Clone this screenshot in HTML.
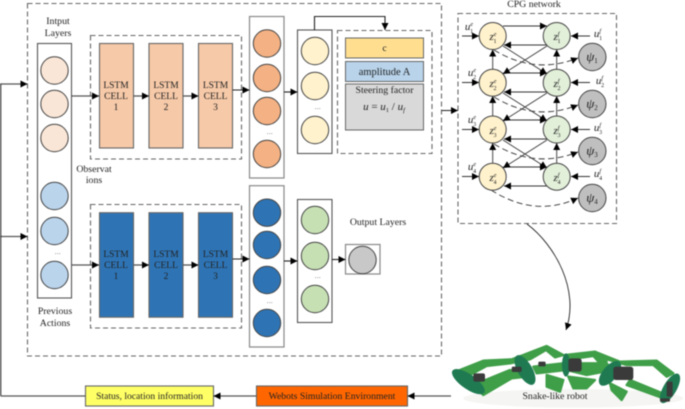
<!DOCTYPE html>
<html><head><meta charset="utf-8"><style>
html,body{margin:0;padding:0;background:#fff}
svg{display:block;filter:blur(.45px)}
text{font-family:"Liberation Serif",serif;fill:#222;text-anchor:middle}
.d{fill:none;stroke:#666;stroke-width:1.1;stroke-dasharray:5 3}
.b{fill:#fff;stroke:#555;stroke-width:1.1}
.g{fill:#fff;stroke:#888;stroke-width:1.2}
.c{stroke:#444;stroke-width:1}
.l{stroke:#222;stroke-width:1.1;fill:none}
.lg{stroke:#555;stroke-width:1.3;fill:none}
.o{stroke:#333;stroke-width:.9;fill:none}
.i{font-style:italic}
.t{font-size:9.8px}
.dots{font-size:6px;letter-spacing:.6px}
</style></head><body>
<svg width="685" height="409" viewBox="0 0 685 409" xmlns="http://www.w3.org/2000/svg">
<defs>
<marker id="a" markerUnits="userSpaceOnUse" markerWidth="8" markerHeight="8" refX="7" refY="3.5" orient="auto"><path d="M0 0L7 3.5L0 7Z" fill="#000"/></marker>
</defs>

<!-- main frames -->
<rect class="d" x="27.5" y="3.5" width="414" height="352.5"/>
<rect class="d" x="90.5" y="35.5" width="151" height="123.5"/>
<rect class="d" x="90.5" y="204.5" width="151" height="123.5"/>
<rect class="d" x="337.5" y="30.5" width="94.5" height="123"/>
<rect class="d" x="458" y="13.5" width="158.5" height="210"/>

<!-- input column -->
<rect class="b" x="37.5" y="43.5" width="34" height="254.5"/>
<g class="c" fill="#fae6d6">
<circle cx="54.5" cy="70.5" r="13.7"/><circle cx="54.5" cy="104" r="13.7"/><circle cx="54.5" cy="138" r="13.7"/>
</g>
<g class="c" fill="#bad4ec">
<circle cx="54.5" cy="196" r="13.7"/><circle cx="54.5" cy="231" r="13.7"/><circle cx="54.5" cy="275" r="13.7"/>
</g>
<text class="t" x="58" y="24">Intput</text>
<text class="t" x="58" y="36">Layers</text>
<text class="t" x="94" y="172">Observat</text>
<text class="t" x="94" y="183">ions</text>
<text class="dots" x="58" y="254">...</text>
<text class="t" x="55" y="314">Previous</text>
<text class="t" x="55" y="326">Actions</text>

<!-- LSTM upper -->
<g fill="#f6c9a8" stroke="#666" stroke-width="1.1">
<rect x="99.5" y="43.5" width="34" height="104.5"/><rect x="149" y="43.5" width="34" height="104.5"/><rect x="198.5" y="43.5" width="34" height="104.5"/>
</g>
<g fill="#2e74b5" stroke="#666" stroke-width="1.1">
<rect x="99.5" y="212.7" width="34" height="104.5"/><rect x="149" y="212.7" width="34" height="104.5"/><rect x="198.5" y="212.7" width="34" height="104.5"/>
</g>
<g font-size="9.5">
<text x="116" y="88">LSTM</text><text x="116" y="99">CELL</text><text x="116" y="110">1</text>
<text x="166" y="88">LSTM</text><text x="166" y="99">CELL</text><text x="166" y="110">2</text>
<text x="215.5" y="88">LSTM</text><text x="215.5" y="99">CELL</text><text x="215.5" y="110">3</text>
<text x="116" y="257">LSTM</text><text x="116" y="268">CELL</text><text x="116" y="279">1</text>
<text x="166" y="257">LSTM</text><text x="166" y="268">CELL</text><text x="166" y="279">2</text>
<text x="215.5" y="257">LSTM</text><text x="215.5" y="268">CELL</text><text x="215.5" y="279">3</text>
</g>

<!-- orange column -->
<rect class="g" x="249.5" y="16.5" width="34.5" height="161.5"/>
<g class="c" fill="#f4b183">
<circle cx="267" cy="43.5" r="13.7"/><circle cx="267" cy="78" r="13.7"/><circle cx="267" cy="111" r="13.7"/><circle cx="267" cy="154" r="13.7"/>
</g>
<text class="dots" x="270" y="134">...</text>

<!-- cream column -->
<rect class="b" x="297.5" y="30" width="34.5" height="123.5"/>
<g class="c" fill="#fff2cc">
<circle cx="315" cy="51" r="13.7"/><circle cx="315" cy="86" r="13.7"/><circle cx="315" cy="130" r="13.7"/>
</g>
<text class="dots" x="318" y="109">...</text>

<!-- parameter panel -->
<rect x="345.5" y="38" width="78" height="20" fill="#ffdf8f" stroke="#666"/>
<rect x="345.5" y="61.5" width="78" height="20" fill="#b8d3ea" stroke="#666"/>
<rect x="345.5" y="84" width="78" height="46" fill="#d9d9d9" stroke="#666"/>
<text class="t" x="384.5" y="51">c</text>
<text x="384.500" y="75" font-size="10.500">amplitude A</text>
<text class="t" x="384.500" y="93">Steering factor</text>
<text x="384" y="110" font-size="11"><tspan class="i">u</tspan> = <tspan class="i">u</tspan><tspan font-size="6.500" dy="2">1</tspan><tspan dy="-2"> / </tspan><tspan class="i">u</tspan><tspan class="i" font-size="6.500" dy="2">f</tspan></text>

<!-- blue column -->
<rect class="g" x="249.5" y="185.7" width="34.5" height="161.3"/>
<g class="c" fill="#2e74b5">
<circle cx="267" cy="212.7" r="13.7"/><circle cx="267" cy="245" r="13.7"/><circle cx="267" cy="280" r="13.7"/><circle cx="267" cy="323" r="13.7"/>
</g>
<text class="dots" x="270" y="303">...</text>

<!-- green column -->
<rect class="b" x="297.5" y="199.5" width="34.5" height="123"/>
<g class="c" fill="#c6e0b4">
<circle cx="315" cy="220" r="13.7"/><circle cx="315" cy="256" r="13.7"/><circle cx="315" cy="299" r="13.7"/>
</g>
<text class="dots" x="318" y="278">...</text>

<!-- output -->
<text class="t" x="378" y="225">Output Layers</text>
<rect class="g" x="345.5" y="244.5" width="34.5" height="29.5"/>
<circle class="c" cx="362.5" cy="260" r="13.7" fill="#c8c8c8"/>

<!-- NN connectors -->
<g class="lg">
<path d="M0 84H27.5" marker-end="url(#a)"/>
<path d="M0 236.5H27.5" marker-end="url(#a)"/>
<path d="M71.5 96H99" marker-end="url(#a)"/>
<path d="M71.5 265H99" marker-end="url(#a)"/>
<path d="M133.5 96H149" marker-end="url(#a)"/>
<path d="M183 96H198.5" marker-end="url(#a)"/>
<path d="M133.5 265H149" marker-end="url(#a)"/>
<path d="M183 265H198.5" marker-end="url(#a)"/>
</g>
<g class="l">
<path d="M232.5 90H249.5" marker-end="url(#a)"/>
<path d="M232.5 259H249.5" marker-end="url(#a)"/>
<path d="M284 92H297.5" marker-end="url(#a)"/>
<path d="M284 261H297.5" marker-end="url(#a)"/>
<path d="M332 259.500H345.500" marker-end="url(#a)"/>
<path d="M314.500 30V16.500H385V30" marker-end="url(#a)"/>
<path d="M441.500 110.500H458" marker-end="url(#a)"/>
<path d="M.7 84V396"/>
</g>

<!-- CPG -->
<text class="t" x="534" y="7">CPG network</text>
<g class="o">
<path d="M503 26H547" marker-end="url(#a)"/><path d="M547 45H504" marker-end="url(#a)"/>
<path d="M503 73H547" marker-end="url(#a)"/><path d="M547 92H504" marker-end="url(#a)"/>
<path d="M503 120H547" marker-end="url(#a)"/><path d="M547 139H504" marker-end="url(#a)"/>
<path d="M503 167H547" marker-end="url(#a)"/><path d="M547 186H504" marker-end="url(#a)"/>
<path d="M503 46L547 74" marker-end="url(#a)"/><path d="M547 46L503 74" marker-end="url(#a)"/>
<path d="M503 93L547 121" marker-end="url(#a)"/><path d="M547 93L503 121" marker-end="url(#a)"/>
<path d="M503 140L547 168" marker-end="url(#a)"/><path d="M547 140L503 168" marker-end="url(#a)"/>
<path d="M492.700 69V49.500" marker-end="url(#a)"/><path d="M556.700 69V49.500" marker-end="url(#a)"/>
<path d="M492.700 116V96" marker-end="url(#a)"/><path d="M556.700 116V96" marker-end="url(#a)"/>
<path d="M492.700 163V143" marker-end="url(#a)"/><path d="M556.700 163V143" marker-end="url(#a)"/>
<path d="M462 36H479" marker-end="url(#a)"/><path d="M462 82.500H479" marker-end="url(#a)"/><path d="M462 129.500H479" marker-end="url(#a)"/><path d="M462 176.500H479" marker-end="url(#a)"/>
<path d="M590 36H571" marker-end="url(#a)"/><path d="M590 82.500H571" marker-end="url(#a)"/><path d="M590 129.500H571" marker-end="url(#a)"/><path d="M590 176.500H571" marker-end="url(#a)"/>
<g stroke-dasharray="6 3.500">
<path d="M494 50Q535 75 578 58" marker-end="url(#a)"/>
<path d="M494 97Q535 122 578 105" marker-end="url(#a)"/>
<path d="M494 144Q535 169 578 152" marker-end="url(#a)"/>
<path d="M491 190Q535 218 578 198" marker-end="url(#a)"/>
</g>
</g>
<g class="c" fill="#fff2cc">
<circle cx="492.700" cy="36" r="13.500"/><circle cx="492.700" cy="82.700" r="13.500"/><circle cx="492.700" cy="129.500" r="13.500"/><circle cx="492.700" cy="176.700" r="13.500"/>
</g>
<g class="c" fill="#e2efd9">
<circle cx="556.700" cy="36" r="13.500"/><circle cx="556.700" cy="82.700" r="13.500"/><circle cx="556.700" cy="129.500" r="13.500"/><circle cx="556.700" cy="176.700" r="13.500"/>
</g>
<g class="c" fill="#bfbfbf">
<circle cx="592.300" cy="57" r="13.700"/><circle cx="592.300" cy="104" r="13.700"/><circle cx="592.300" cy="151" r="13.700"/><circle cx="592.300" cy="198" r="13.700"/>
</g>
<g font-size="11">
<text x="493" y="40"><tspan class="i">z</tspan><tspan class="i" font-size="6" dy="-4">e</tspan><tspan font-size="6" dx="-3" dy="7">1</tspan></text>
<text x="493" y="87"><tspan class="i">z</tspan><tspan class="i" font-size="6" dy="-4">e</tspan><tspan font-size="6" dx="-3" dy="7">2</tspan></text>
<text x="493" y="134"><tspan class="i">z</tspan><tspan class="i" font-size="6" dy="-4">e</tspan><tspan font-size="6" dx="-3" dy="7">3</tspan></text>
<text x="493" y="181"><tspan class="i">z</tspan><tspan class="i" font-size="6" dy="-4">e</tspan><tspan font-size="6" dx="-3" dy="7">4</tspan></text>
<text x="557" y="40"><tspan class="i">z</tspan><tspan class="i" font-size="6" dy="-4">f</tspan><tspan font-size="6" dx="-2" dy="7">1</tspan></text>
<text x="557" y="87"><tspan class="i">z</tspan><tspan class="i" font-size="6" dy="-4">f</tspan><tspan font-size="6" dx="-2" dy="7">2</tspan></text>
<text x="557" y="134"><tspan class="i">z</tspan><tspan class="i" font-size="6" dy="-4">f</tspan><tspan font-size="6" dx="-2" dy="7">3</tspan></text>
<text x="557" y="181"><tspan class="i">z</tspan><tspan class="i" font-size="6" dy="-4">f</tspan><tspan font-size="6" dx="-2" dy="7">4</tspan></text>
<text x="469" y="30"><tspan class="i">u</tspan><tspan class="i" font-size="6" dy="-4">e</tspan><tspan font-size="6" dx="-3" dy="7">1</tspan></text>
<text x="472" y="76"><tspan class="i">u</tspan><tspan class="i" font-size="6" dy="-4">e</tspan><tspan font-size="6" dx="-3" dy="7">2</tspan></text>
<text x="472" y="123"><tspan class="i">u</tspan><tspan class="i" font-size="6" dy="-4">e</tspan><tspan font-size="6" dx="-3" dy="7">3</tspan></text>
<text x="472" y="170"><tspan class="i">u</tspan><tspan class="i" font-size="6" dy="-4">e</tspan><tspan font-size="6" dx="-3" dy="7">4</tspan></text>
<text x="598" y="37"><tspan class="i">u</tspan><tspan class="i" font-size="6" dy="-4">f</tspan><tspan font-size="6" dx="-2" dy="7">1</tspan></text>
<text x="600" y="84"><tspan class="i">u</tspan><tspan class="i" font-size="6" dy="-4">f</tspan><tspan font-size="6" dx="-2" dy="7">2</tspan></text>
<text x="598" y="131"><tspan class="i">u</tspan><tspan class="i" font-size="6" dy="-4">f</tspan><tspan font-size="6" dx="-2" dy="7">3</tspan></text>
<text x="598" y="177"><tspan class="i">u</tspan><tspan class="i" font-size="6" dy="-4">f</tspan><tspan font-size="6" dx="-2" dy="7">4</tspan></text>
</g>
<g font-size="13" font-style="italic">
<text x="592" y="61">ψ<tspan font-size="7" font-style="normal" dy="2">1</tspan></text>
<text x="592" y="108">ψ<tspan font-size="7" font-style="normal" dy="2">2</tspan></text>
<text x="592" y="155">ψ<tspan font-size="7" font-style="normal" dy="2">3</tspan></text>
<text x="592" y="202">ψ<tspan font-size="7" font-style="normal" dy="2">4</tspan></text>
</g>

<!-- CPG to robot -->
<path d="M527 224C555 245 580 290 566 330" fill="none" stroke="#222" stroke-width=".9" marker-end="url(#a)"/>

<!-- robot -->
<g transform="translate(440 320) scale(.3333)">
<ellipse cx="400" cy="235" rx="330" ry="28" fill="#f5f5f3"/>
<g fill="#3f9e48" stroke="#3f9e48" stroke-width="7" stroke-linejoin="round">
<path d="M60 150L130 122L215 118L250 105L320 78L370 105L345 112L318 90L270 118L210 130L140 138L90 165Z"/>
<path d="M375 105L465 95L500 125L480 130L460 108L390 118Z"/>
<path d="M465 95L540 125L650 122L700 160L680 170L640 135L560 135L480 112Z"/>
<path d="M100 195L210 150L260 170L215 175L130 225Z"/>
<path d="M320 165L370 180L360 215L320 200Z"/>
<path d="M385 170L465 180L440 205L400 205Z"/>
<path d="M510 190L560 215L545 240L515 210Z"/>
<path d="M570 180L680 225L670 235L560 195Z"/>
<path d="M280 140L370 130L500 130L520 150L440 165L380 150L290 160Z"/>
</g>
<g fill="#1f7a52">
<ellipse cx="85" cy="185" rx="58" ry="22" transform="rotate(35 85 185)"/>
<ellipse cx="255" cy="150" rx="22" ry="50" transform="rotate(-30 255 150)"/>
<ellipse cx="378" cy="135" rx="12" ry="35"/>
<ellipse cx="510" cy="160" rx="22" ry="45" transform="rotate(40 510 160)"/>
<ellipse cx="690" cy="205" rx="20" ry="50" transform="rotate(30 690 205)"/>
</g>
<g fill="#3a3a3a">
<rect x="385" y="115" width="40" height="40" rx="8"/>
<rect x="520" y="140" width="60" height="40" rx="8"/>
<rect x="100" y="160" width="35" height="25" rx="6"/>
<rect x="215" y="140" width="30" height="16" rx="5"/>
<rect x="295" y="125" width="22" height="14" rx="4"/>
<rect x="680" y="185" width="18" height="45" rx="4"/>
<rect x="660" y="235" width="30" height="10" rx="3"/>
</g>
</g>
<text class="t" x="555" y="399">Snake-like robot</text>

<!-- bottom flow -->
<rect x="85.500" y="386" width="128" height="20" fill="#ffff66" stroke="#666" stroke-width="1.100"/>
<rect x="256.500" y="386" width="151" height="20" fill="#ff6600" stroke="#666" stroke-width="1.100"/>
<text x="149.500" y="399" font-size="9.600">Status, location information</text>
<text x="332" y="399" font-size="9.700">Webots Simulation Environment</text>
<g class="lg">
<path d="M451 396H407.500" marker-end="url(#a)"/>
<path d="M256.500 396H213.500" marker-end="url(#a)"/>
<path d="M85.500 396H.5"/>
</g>
</svg>
</body></html>
